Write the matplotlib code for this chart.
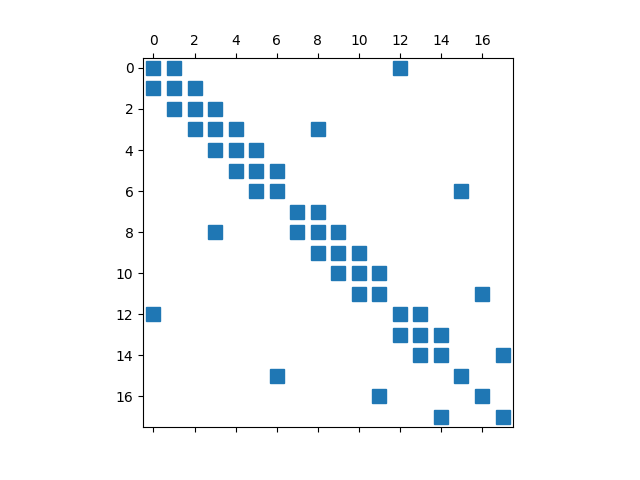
import numpy as np
import matplotlib
matplotlib.use('Agg')
import matplotlib.pyplot as plt

# nonzero columns per row
rows = [0, 1, 2, 3, 4, 5, 6, 7, 8, 9, 10, 11, 12, 13, 14, 15, 16, 17]
cols = [
    [0, 1, 12],
    [0, 1, 2],
    [1, 2, 3],
    [2, 3, 4, 8],
    [3, 4, 5],
    [4, 5, 6],
    [5, 6, 15],
    [7, 8],
    [3, 7, 8, 9],
    [8, 9, 10],
    [9, 10, 11],
    [10, 11, 16],
    [0, 12, 13],
    [12, 13, 14],
    [13, 14, 17],
    [6, 15],
    [11, 16],
    [14, 17],
]

A = np.zeros((18, 18))
for r, cs in zip(rows, cols):
    A[r, cs] = 1

plt.spy(A, markersize=10)
plt.savefig('out.png')
